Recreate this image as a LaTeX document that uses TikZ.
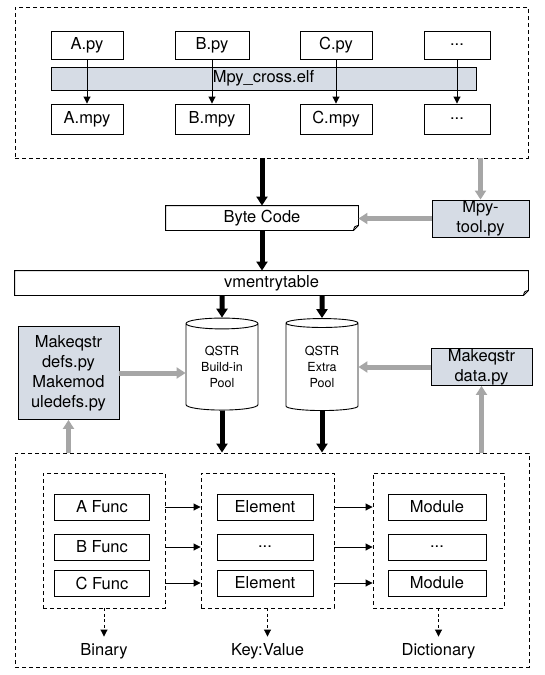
\documentclass[tikz,border=0pt]{standalone}
\usepackage{fontspec}
\setmainfont{TeX Gyre Heros}
\usetikzlibrary{arrows.meta, shapes.geometric}
\definecolor{cband}{HTML}{D6DCE5}
\definecolor{cgray}{HTML}{A6A6A6}
\newcommand\tdots{...}
\tikzset{
  every picture/.style={x=1pt, y=-1pt, line width=0.9pt},
  box/.style={draw, inner sep=0pt, align=center, font=\fontsize{16.5}{20}\selectfont},
  tool/.style={box, fill=cband},
  frame/.style={draw, inner sep=0pt, dash pattern=on 4pt off 3pt},
  doc/.style={inner sep=0pt, font=\fontsize{16.5}{20}\selectfont},
  pool/.style={draw, cylinder, shape border rotate=90, aspect=0.26, inner sep=0pt, align=center,
               minimum width=72pt, minimum height=92pt, font=\fontsize{12.5}{16}\selectfont},
  tag/.style={inner sep=6pt, text height=12pt, text depth=4pt, font=\fontsize{16.5}{20}\selectfont},
  thin/.style={-{Triangle[length=7pt, width=7pt]}},
  dasharrow/.style={thin, dash pattern=on 3pt off 2.5pt},
  bigarrow/.style={-{Triangle[length=9pt, width=11pt]}, line width=5pt},
  grayarrow/.style={bigarrow, draw=cgray},
}
\begin{document}
\begin{tikzpicture}
  \useasboundingbox (0,0) rectangle (544,675);
  % compiling the scripts
  \node[frame, minimum width=513pt, minimum height=151pt] (topframe) at (271.5,82.5) {};
  \node[tool, minimum width=425pt, minimum height=23pt] (mpycross) at (263.5,78.5) {Mpy\_cross.elf};
  \foreach \n/\x/\w/\t in {a/87/72/A, b/212/74/B, c/336/72/C} {
    \node[box, minimum width=\w pt, minimum height=28pt] (\n py) at (\x,45) {\t.py};
    \node[box, minimum width=\w pt, minimum height=30pt] (\n mpy) at (\x,119) {\t.mpy};
  }
  \node[box, minimum width=66pt, minimum height=28pt] (dpy) at (457,45) {...};
  \node[box, minimum width=66pt, minimum height=30pt] (dmpy) at (457,119) {...};
  \foreach \n in {a,b,c,d} \draw[thin] (\n py.south) -- (\n mpy.north);
  % byte code and entry table
  \node[doc, minimum width=192pt, minimum height=24pt] (bytecode) at (262,218) {Byte Code};
  \node[tool, minimum width=97pt, minimum height=37pt] (mpytool) at (480.5,218.5) {Mpy-\\tool.py};
  \node[doc, minimum width=513pt, minimum height=24pt] (vmtable) at (271.5,283) {vmentrytable};
  \foreach \n in {bytecode,vmtable} {
    \draw (\n.north west) -- (\n.north east) -- ([yshift=5pt]\n.south east) -- ([xshift=-5pt]\n.south east) -- (\n.south west) -- cycle;
    \draw ([yshift=5pt]\n.south east) .. controls ([xshift=-4pt,yshift=4pt]\n.south east) .. ([xshift=-5pt]\n.south east);
  }
  \draw[bigarrow] (topframe.south -| bytecode) -- (bytecode.north);
  \draw[bigarrow] (bytecode.south) -- (bytecode.south |- vmtable.north);
  \draw[grayarrow] (topframe.south -| mpytool) -- (mpytool.north);
  \draw[grayarrow] (mpytool.west) -- (bytecode.east |- mpytool.west);
  % qstr pools
  \node[pool] (builtin) at (222,367) {QSTR\\Build-in\\Pool};
  \node[pool] (extra) at (322,367) {QSTR\\Extra\\Pool};
  \node[tool, minimum width=101pt, minimum height=93pt] (defs) at (68.5,373) {Makeqstr\\defs.py\\Makemod\\uledefs.py};
  \node[tool, minimum width=101pt, minimum height=37pt] (data) at (481.5,367) {Makeqstr\\data.py};
  \draw[grayarrow] (defs.east) -- (defs.east -| builtin.west);
  \draw[grayarrow] (data.west) -- (data.west -| extra.east);
  % firmware layout
  \node[frame, minimum width=514pt, minimum height=214pt] (bottomframe) at (272,560) {};
  \node[frame, minimum width=122pt, minimum height=135pt] (bin) at (104,540.5) {};
  \node[frame, minimum width=133pt, minimum height=135pt] (kv) at (267.5,540.5) {};
  \node[frame, minimum width=131pt, minimum height=135pt] (dict) at (438.5,540.5) {};
  \foreach \r/\y/\f/\e/\m in {1/507/A Func/Element/Module, 2/547/B Func/\tdots/\tdots, 3/583/C Func/Element/Module} {
    \node[box, minimum width=95pt, minimum height=26pt] (f\r) at (102,\y) {\f};
    \node[box, minimum width=96pt, minimum height=26pt] (e\r) at (265,\y) {\e};
    \node[box, minimum width=98pt, minimum height=26pt] (m\r) at (437,\y) {\m};
    \draw[thin] (bin.east |- f\r) -- (kv.west |- f\r);
    \draw[thin] (kv.east |- e\r) -- (dict.west |- e\r);
  }
  \node[tag] (binary) at (104,651) {Binary};
  \node[tag] (keyvalue) at (267.5,651) {Key:Value};
  \node[tag] (dictionary) at (438.5,651) {Dictionary};
  \foreach \a/\b in {bin/binary, kv/keyvalue, dict/dictionary} \draw[dasharrow] (\a.south) -- (\b.north);
  \foreach \p in {builtin,extra} {
    \draw[bigarrow] (vmtable.south -| \p) -- (\p.north);
    \draw[bigarrow] (\p.south) -- (\p.south |- bottomframe.north);
  }
  \draw[grayarrow] (bottomframe.north -| defs) -- (defs.south);
  \draw[grayarrow] (bottomframe.north -| data) -- (data.south);
\end{tikzpicture}
\end{document}
